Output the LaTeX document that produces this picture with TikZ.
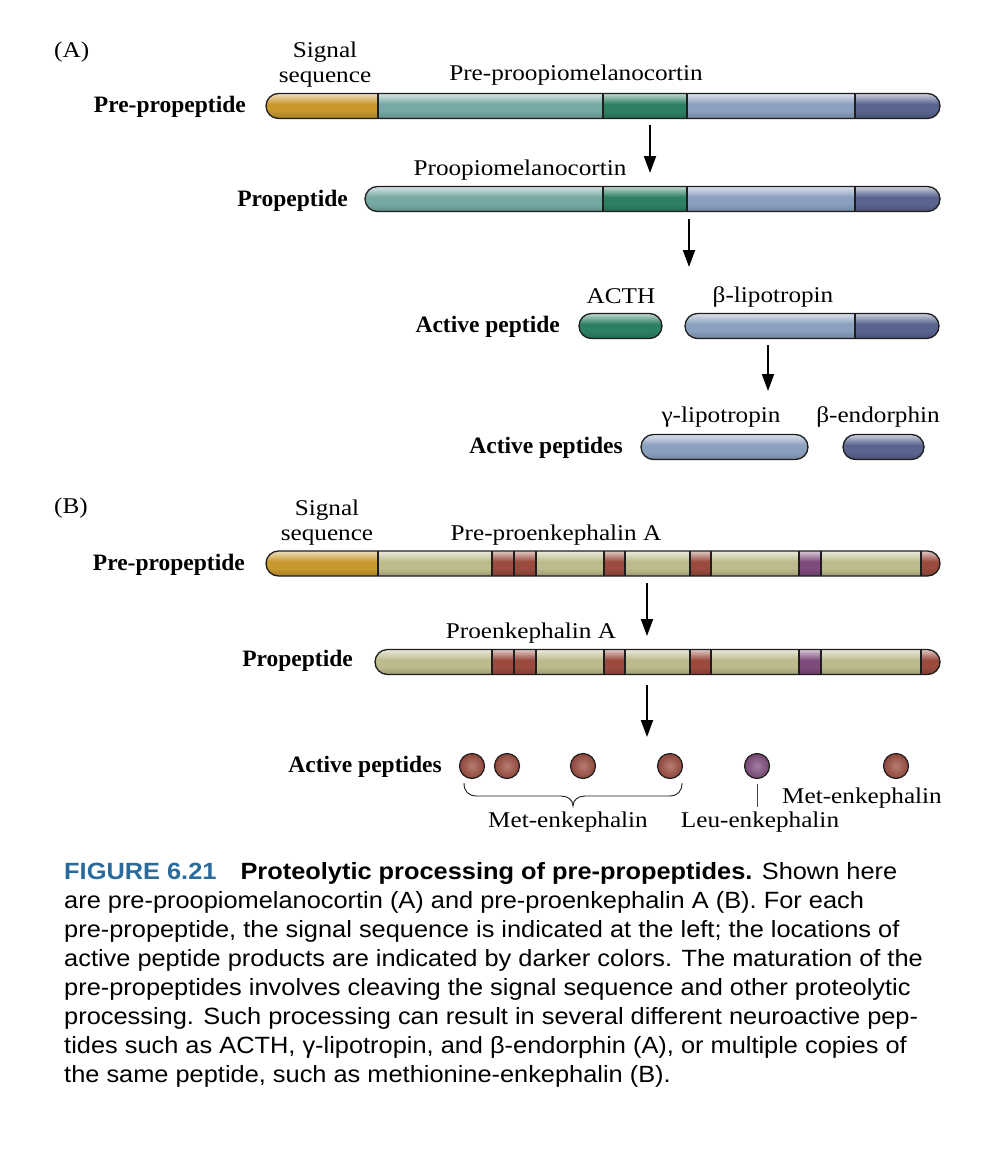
\documentclass[tikz,border=0pt]{standalone}
\usepackage{fontspec}
\setmainfont{Liberation Serif}
\newfontfamily\labfont[FakeStretch=1.12]{Liberation Serif}
\newfontfamily\blabfont{Liberation Serif}
\newfontfamily\capfont[FakeStretch=1.08]{Liberation Sans}
\usetikzlibrary{arrows.meta}
\definecolor{gold}{HTML}{C8982F}
\definecolor{teal}{HTML}{76A9A4}
\definecolor{dgreen}{HTML}{2E8062}
\definecolor{lblue}{HTML}{8AA0BE}
\definecolor{dblue}{HTML}{59648F}
\definecolor{olive}{HTML}{BDBB8C}
\definecolor{rbrown}{HTML}{9A4B3E}
\definecolor{purp}{HTML}{7E4B7C}
\definecolor{outl}{HTML}{1E1E1E}
\definecolor{figblue}{HTML}{2A6B9C}
\newcommand{\pbar}[4]{%
  \begin{scope}
    \clip[rounded corners=12.5pt] (#2,#1-12.5) rectangle (#3,#1+12.5);
    \foreach \xa/\xb/\cc in {#4}{%
      \fill[\cc] (\xa,#1-12.5) rectangle (\xb,#1+12.5);
      \shade[top color=\cc!30!white, bottom color=\cc] (\xa,#1-12.5) rectangle (\xb,#1-2);
      \shade[top color=\cc, bottom color=\cc!82!black] (\xa,#1+5) rectangle (\xb,#1+12.5);
    }
    \foreach \xa/\xb/\cc in {#4}{%
      \draw[outl, line width=1.1pt] (\xb,#1-12.5) -- (\xb,#1+12.5);
    }
  \end{scope}
  \draw[outl, line width=1.3pt, rounded corners=12.5pt] (#2,#1-12.5) rectangle (#3,#1+12.5);
}
\tikzset{
  lbl/.style={font=\labfont\fontsize{22.5}{26}\selectfont, inner sep=0pt, anchor=base},
  blbl/.style={font=\blabfont\bfseries\fontsize{23.5}{28}\selectfont, inner sep=0pt, anchor=base east},
  captxt/.style={font=\capfont\fontsize{23.5}{28}\selectfont, inner sep=0pt, anchor=base west},
  arr/.style={line width=2pt, -{Triangle[length=17pt,width=12pt]}},
  pep/.style={circle, draw=outl, line width=1.2pt, minimum size=25pt, inner sep=0pt,
    shading=radial, inner color=#1!72!white, outer color=#1!92!black},
}
\begin{document}
\begin{tikzpicture}[x=1pt,y=-1pt]
\useasboundingbox (0,0) rectangle (984,1156);
\fill[white] (0,0) rectangle (984,1156);

% ---------- (A) ----------
\node[lbl, anchor=base west] (labA) at (54,57) {(A)};
\node[lbl] (sigA1) at (325,57) {Signal};
\node[lbl] (sigA2) at (325,82) {sequence};
\node[lbl] (ppomc) at (576,81) {Pre-proopiomelanocortin};
\node[blbl] (preA) at (246,112) {Pre-propeptide};
\pbar{106}{266}{940}{266/378/gold, 378/603/teal, 603/687/dgreen, 687/855/lblue, 855/940/dblue}

\coordinate (a1s) at (650,125);
\coordinate (a1e) at (650,173);
\draw[arr] (a1s) -- (a1e);

\node[lbl] (pomc) at (520,175) {Proopiomelanocortin};
\node[blbl] (proA) at (348,206) {Propeptide};
\pbar{199}{365}{940}{365/603/teal, 603/687/dgreen, 687/855/lblue, 855/940/dblue}

\coordinate (a2s) at (689,219);
\coordinate (a2e) at (689,267);
\draw[arr] (a2s) -- (a2e);

\node[lbl] (acth) at (621,303) {ACTH};
\node[lbl] (blip) at (773,302) {β-lipotropin};
\node[blbl] (actA) at (560,332) {Active peptide};
\pbar{326}{579}{662}{579/662/dgreen}
\pbar{326}{685}{939}{685/855/lblue, 855/939/dblue}

\coordinate (a3s) at (768,345);
\coordinate (a3e) at (768,391);
\draw[arr] (a3s) -- (a3e);

\node[lbl] (glip) at (721,422) {γ-lipotropin};
\node[lbl] (bend) at (878,422) {β-endorphin};
\node[blbl] (actsA) at (623,453) {Active peptides};
\pbar{447}{641}{808}{641/808/lblue}
\pbar{447}{843}{924}{843/924/dblue}

% ---------- (B) ----------
\node[lbl, anchor=base west] (labB) at (54,513) {(B)};
\node[lbl] (sigB1) at (327,515) {Signal};
\node[lbl] (sigB2) at (327,540) {sequence};
\node[lbl] (ppenk) at (556,540) {Pre-proenkephalin A};
\node[blbl] (preB) at (245,570) {Pre-propeptide};
\pbar{563.5}{266}{940}{266/378/gold, 378/492/olive, 492/514/rbrown, 514/536/rbrown, 536/604/olive, 604/625/rbrown, 625/690/olive, 690/711/rbrown, 711/799/olive, 799/821/purp, 821/921/olive, 921/940/rbrown}

\coordinate (b1s) at (647,583);
\coordinate (b1e) at (647,636);
\draw[arr] (b1s) -- (b1e);

\node[lbl] (penk) at (531,638) {Proenkephalin A};
\node[blbl] (proB) at (353,666) {Propeptide};
\pbar{662}{375}{940}{375/492/olive, 492/514/rbrown, 514/536/rbrown, 536/604/olive, 604/625/rbrown, 625/690/olive, 690/711/rbrown, 711/799/olive, 799/821/purp, 821/921/olive, 921/940/rbrown}

\coordinate (b2s) at (647,685);
\coordinate (b2e) at (647,737);
\draw[arr] (b2s) -- (b2e);

\node[blbl] (actsB) at (442,772) {Active peptides};
\node[pep=rbrown] (m1) at (472,766) {};
\node[pep=rbrown] (m2) at (507,766) {};
\node[pep=rbrown] (m3) at (583,766) {};
\node[pep=rbrown] (m4) at (670,766) {};
\node[pep=purp] (l1) at (757,766) {};
\node[pep=rbrown] (m5) at (896,766) {};

\draw[outl, line width=0.9pt] (464,783) .. controls (464,791) and (468,796) .. (477,796) -- (561,796)
  .. controls (568,796) and (573,800) .. (573,806) .. controls (573,800) and (578,796) .. (585,796)
  -- (669,796) .. controls (678,796) and (682,791) .. (682,783);
\coordinate (leuT) at (757,784);
\coordinate (leuB) at (757,807);
\draw[outl!80, line width=0.8pt] (leuT) -- (leuB);

\node[lbl] (met1) at (568,827) {Met-enkephalin};
\node[lbl] (leu) at (760,827) {Leu-enkephalin};
\node[lbl] (met2) at (862,803) {Met-enkephalin};

% ---------- caption ----------
\node[captxt] (c1) at (64,879) {{\color{figblue}\bfseries FIGURE 6.21}\hspace{24pt}{\bfseries Proteolytic processing of pre-propeptides.} Shown here};
\node[captxt] (c2) at (64,908) {are pre-proopiomelanocortin (A) and pre-proenkephalin A (B). For each};
\node[captxt] (c3) at (64,937) {pre-propeptide, the signal sequence is indicated at the left; the locations of};
\node[captxt] (c4) at (64,966) {active peptide products are indicated by darker colors. The maturation of the};
\node[captxt] (c5) at (64,995) {pre-propeptides involves cleaving the signal sequence and other proteolytic};
\node[captxt] (c6) at (64,1024) {processing. Such processing can result in several different neuroactive pep-};
\node[captxt] (c7) at (64,1053) {tides such as ACTH, γ-lipotropin, and β-endorphin (A), or multiple copies of};
\node[captxt] (c8) at (64,1082) {the same peptide, such as methionine-enkephalin (B).};
\end{tikzpicture}
\end{document}
